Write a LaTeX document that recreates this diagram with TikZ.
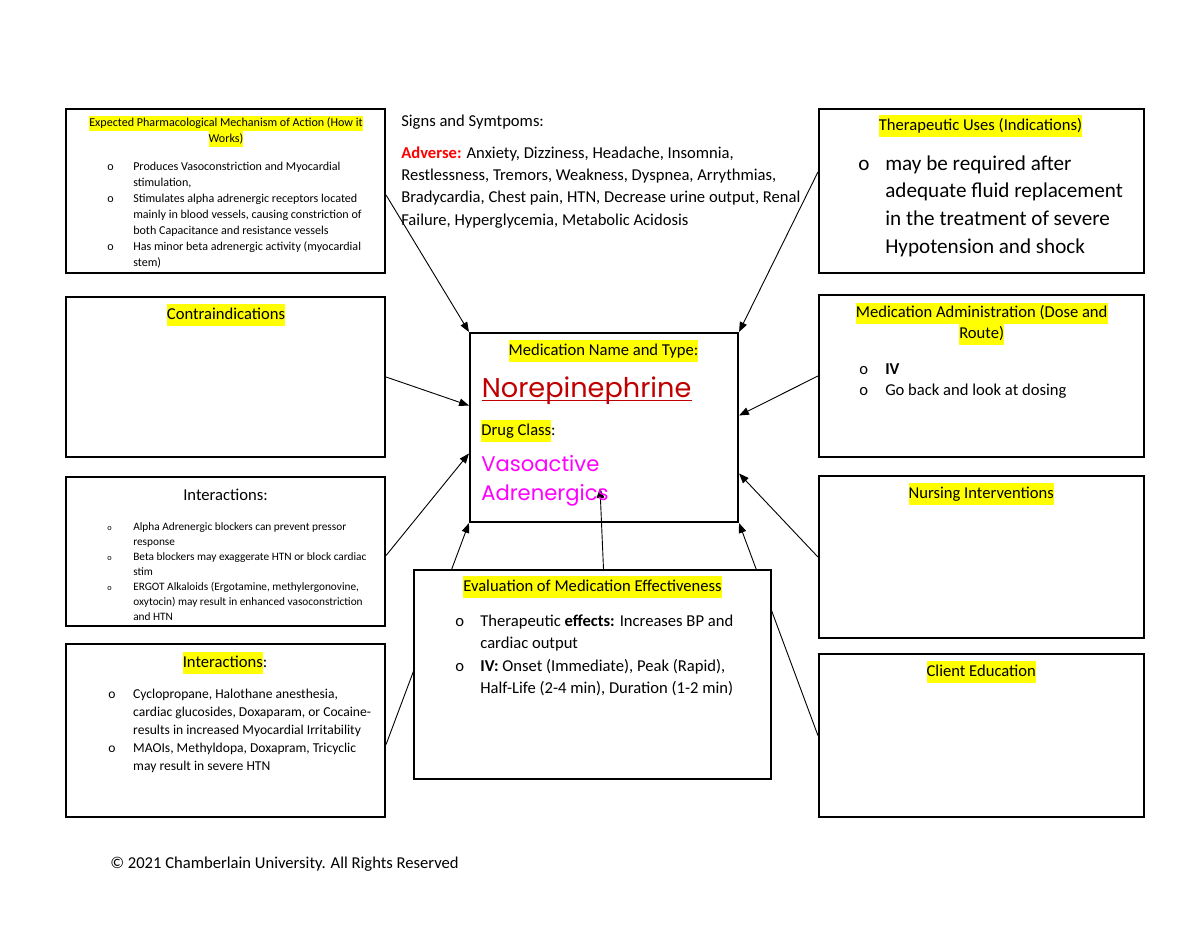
\documentclass[tikz,border=0pt]{standalone}
\usepackage{fontspec}
\setmainfont{Carlito}
\newfontfamily\gothic{Poppins}
\usetikzlibrary{arrows.meta,fit,calc,backgrounds}

\definecolor{hlyellow}{RGB}{255,255,0}
\definecolor{drugred}{RGB}{192,0,0}
\definecolor{classpink}{RGB}{255,0,255}
\definecolor{advred}{RGB}{255,0,0}

% yellow highlight and one bullet paragraph (hanging indent)
\newcommand{\hlt}[1]{{\setlength{\fboxsep}{0pt}\colorbox{hlyellow}{\strut #1}}}
\newcommand{\bitem}[3]{\hangindent=#2\hangafter=1\noindent\makebox[#2][l]{#1}#3\par}

\begin{document}
\begin{tikzpicture}[x=0.02328cm, y=-0.02328cm,
    card/.style={draw, line width=1.4pt, inner sep=0pt},
    link/.style={line width=0.6pt, -{Triangle[length=6.5pt,width=5pt]}},
    txt/.style={inner sep=0pt, anchor=base west},
    head/.style={inner sep=0pt, anchor=base, font=\fontsize{11}{14.6}\selectfont}]
    \useasboundingbox (0,0) rectangle (1200,927);

    % ==================== BOXES ====================
    \node[card, fit={(66,109) (385,273)}] (mech) {};
    \node[card, fit={(66,297) (385,457)}] (contra) {};
    \node[card, fit={(66,477) (385,626)}] (interA) {};
    \node[card, fit={(66,644) (385,817)}] (interB) {};
    \node[card, fit={(470,333) (738,522)}] (drug) {};
    \node[card, fill=white, fit={(414,570) (771,779)}] (eval) {};
    \node[card, fit={(819,109) (1144,273)}] (uses) {};
    \node[card, fit={(819,295) (1144,457)}] (medadm) {};
    \node[card, fit={(819,476) (1144,638)}] (nurse) {};
    \node[card, fit={(819,654) (1144,817)}] (client) {};

    % ==================== LEFT COLUMN ====================
    \node[head] (mechhead) at (226,126.5) {\parbox[t]{220pt}{\centering\fontsize{8}{10.3}\selectfont
        \hlt{Expected Pharmacological Mechanism of Action (How it}\\\hlt{Works)}}};
    \node[txt] (mechlist) at (107,170) {\parbox[t]{200pt}{\fontsize{8}{10.7}\selectfont
        \bitem{o}{17.2pt}{Produces Vasoconstriction and Myocardial\\stimulation,}
        \bitem{o}{17.2pt}{Stimulates alpha adrenergic receptors located\\mainly in blood vessels, causing constriction of\\both Capacitance and resistance vessels}
        \bitem{o}{17.2pt}{Has minor beta adrenergic activity (myocardial\\stem)}}};

    \node[head] (contrahead) at (226,319) {\hlt{Contraindications}};

    \node[head] (interAhead) at (225.5,500) {Interactions:};
    \node[txt] (interAlist) at (107,530) {\parbox[t]{200pt}{\fontsize{7.5}{10}\selectfont
        \bitem{\fontsize{5.5}{6}\selectfont o}{17.2pt}{Alpha Adrenergic blockers can prevent pressor\\response}
        \bitem{\fontsize{5.5}{6}\selectfont o}{17.2pt}{Beta blockers may exaggerate HTN or block cardiac\\stim}
        \bitem{\fontsize{5.5}{6}\selectfont o}{17.2pt}{ERGOT Alkaloids (Ergotamine, methylergonovine,\\oxytocin) may result in enhanced vasoconstriction\\and HTN}}};

    \node[head] (interBhead) at (225,667) {\hlt{Interactions}:};
    \node[txt] (interBlist) at (108,698.3) {\parbox[t]{200pt}{\fontsize{9}{12}\selectfont
        \bitem{o}{16.5pt}{Cyclopropane, Halothane anesthesia,\\cardiac glucosides, Doxaparam, or Cocaine-\\results in increased Myocardial Irritability}
        \bitem{o}{16.5pt}{MAOIs, Methyldopa, Doxapram, Tricyclic\\may result in severe HTN}}};

    % ==================== MIDDLE ====================
    \node[txt] (signs) at (401,126) {\parbox[t]{300pt}{\fontsize{11}{14.8}\selectfont
        Signs and Symtpoms:\\[6.4pt]
        {\color{advred}\bfseries Adverse:} Anxiety, Dizziness, Headache, Insomnia,\\
        Restlessness, Tremors, Weakness, Dyspnea, Arrythmias,\\
        Bradycardia, Chest pain, HTN, Decrease urine output, Renal\\
        Failure, Hyperglycemia, Metabolic Acidosis}};

    \node[head] (drughead) at (603.5,355) {\hlt{Medication Name and Type:}};
    \node[txt, text=drugred, font=\gothic\fontsize{18}{22}\selectfont] (drugname) at (481.5,397.7) {Norepinephrine};
    \draw[drugred, line width=0.9pt] ($(drugname.base west)+(0,2.5)$) -- ($(drugname.base east)+(0,2.5)$);
    \node[txt, font=\fontsize{11}{14.6}\selectfont] (classhead) at (481,435) {\hlt{Drug Class}:};
    \node[txt, text=classpink] (classname) at (481,471.7) {\parbox[t]{150pt}{\gothic\fontsize{14}{18.8}\selectfont
        Vasoactive\\Adrenergics}};

    \node[head] (evalhead) at (592.5,591.7) {\hlt{Evaluation of Medication Effectiveness}};
    \node[txt] (evallist) at (455,626.7) {\parbox[t]{240pt}{\fontsize{11}{14.7}\selectfont
        \bitem{o}{16.6pt}{Therapeutic \textbf{effects:} Increases BP and\\cardiac output}
        \bitem{o}{16.6pt}{\textbf{IV:} Onset (Immediate), Peak (Rapid),\\Half-Life (2-4 min), Duration (1-2 min)}}};

    % ==================== RIGHT COLUMN ====================
    \node[head] (useshead) at (980.5,130) {\hlt{Therapeutic Uses (Indications)}};
    \node[txt] (useslist) at (858,170) {\parbox[t]{200pt}{\fontsize{14}{18.4}\selectfont
        \bitem{o}{17.9pt}{may be required after\\adequate fluid replacement\\in the treatment of severe\\Hypotension and shock}}};

    \node[head] (medhead) at (981.7,317.7) {\parbox[t]{220pt}{\centering\fontsize{11}{14.1}\selectfont
        \hlt{Medication Administration (Dose and}\\\hlt{Route)}}};
    \node[txt] (medlist) at (859,374) {\parbox[t]{200pt}{\fontsize{11}{14}\selectfont
        \bitem{o}{17.2pt}{\textbf{IV}}
        \bitem{o}{17.2pt}{Go back and look at dosing}}};

    \node[head] (nursehead) at (981.3,498) {\hlt{Nursing Interventions}};
    \node[head] (clienthead) at (981.3,676) {\hlt{Client Education}};

    \node[txt, font=\fontsize{11}{14.6}\selectfont] (copy) at (110,868) {© 2021 Chamberlain University. All Rights Reserved};

    % ==================== CONNECTORS (behind the boxes) ====================
    \begin{pgfonlayer}{background}
        \fill[white] (0,0) rectangle (1200,927);
        \draw[link] ($(mech.east)+(0,4)$) -- (drug.north west);
        \draw[link] ($(uses.west)+(0,-19)$) -- (drug.north east);
        \draw[link] (contra.east) -- ($(drug.west)+(0,-22)$);
        \draw[link] ($(interA.east)+(0,4)$) -- ($(drug.west)+(0,26)$);
        \draw[link] ($(interB.east)+(0,14)$) -- (drug.south west);
        \draw[link] ($(eval.north)+(11,0)$) -- ($(drug.south)+(-4,-35)$);
        \draw[link] (medadm.west) -- ($(drug.east)+(0,-12)$);
        \draw[link] (nurse.west) -- ($(drug.east)+(0,46)$);
        \draw[link] (client.west) -- (drug.south east);
    \end{pgfonlayer}
\end{tikzpicture}
\end{document}
